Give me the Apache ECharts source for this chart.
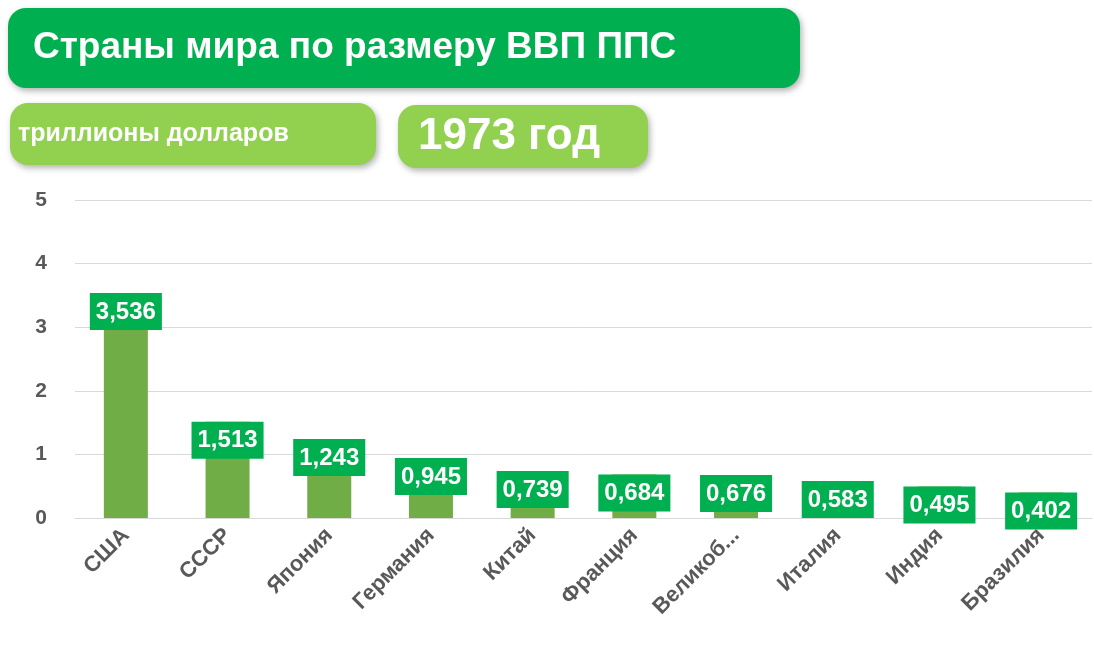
<!DOCTYPE html>
<html>
<head>
<meta charset="utf-8">
<script src="https://cdn.jsdelivr.net/npm/echarts@6/dist/echarts.min.js"></script>
<style>html,body{margin:0;padding:0;background:#fff}#chart{width:1094px;height:656px}</style>
</head>
<body>
<div id="chart"></div>
<script>
var countries = ['США', 'СССР', 'Япония', 'Германия', 'Китай', 'Франция', 'Великобритания', 'Италия', 'Индия', 'Бразилия'];
var gdp = [3.536, 1.513, 1.243, 0.945, 0.739, 0.684, 0.676, 0.583, 0.495, 0.402];
var yTicks = [0, 1, 2, 3, 4, 5];

var font = '"Liberation Sans", Arial, sans-serif';
var chart = echarts.init(document.getElementById('chart'));

function box(x, y, w, h, color, text, size, tx) {
  return {
    type: 'group', left: x, top: y,
    children: [
      { type: 'rect', shape: { width: w, height: h, r: 18 },
        style: { fill: color, shadowBlur: 6, shadowOffsetX: 2, shadowOffsetY: 3, shadowColor: 'rgba(0,0,0,0.3)' } },
      { type: 'text', x: tx, y: h / 2,
        style: { text: text, fill: '#fff', font: 'bold ' + size + 'px ' + font, align: 'left', verticalAlign: 'middle' } }
    ]
  };
}

option = {
  animation: false,
  graphic: [
    box(8, 8, 792, 80, '#00b050', 'Страны мира по размеру ВВП ППС', 37, 25),
    box(10, 103, 366, 62, '#92d050', 'триллионы долларов', 25, 8),
    box(398, 105, 250, 63, '#92d050', '1973 год', 44, 20)
  ],
  grid: { left: 75, right: 2, top: 200, bottom: 138 },
  xAxis: {
    type: 'category',
    data: countries,
    axisLine: { lineStyle: { color: '#d9d9d9' } },
    axisTick: { show: false },
    axisLabel: {
      rotate: 45, interval: 0, color: '#595959', fontFamily: font, fontWeight: 'bold', fontSize: 22, margin: 14,
      formatter: function (v) { return v.length > 9 ? v.slice(0, 7) + '...' : v; }
    }
  },
  yAxis: {
    type: 'value', min: yTicks[0], max: yTicks[yTicks.length - 1], interval: 1,
    axisLine: { show: false }, axisTick: { show: false },
    splitLine: { lineStyle: { color: '#d9d9d9' } },
    axisLabel: { color: '#595959', fontFamily: font, fontWeight: 'bold', fontSize: 21, margin: 28 }
  },
  series: [{
    type: 'bar',
    data: gdp,
    barWidth: 44,
    itemStyle: { color: '#70ad47' },
    label: {
      show: true, position: 'insideTop', distance: 0,
      formatter: function (p) { return p.value.toFixed(3).replace('.', ','); },
      backgroundColor: '#00b050', color: '#fff', fontFamily: font, fontWeight: 'bold', fontSize: 24,
      padding: [7, 6, 6, 6]
    }
  }]
};
chart.setOption(option);
</script>
</body>
</html>
